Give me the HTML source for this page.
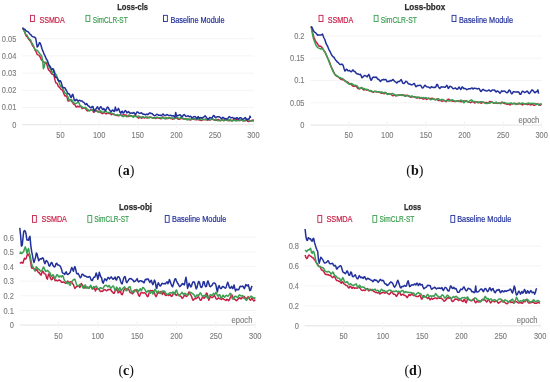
<!DOCTYPE html>
<html><head><meta charset="utf-8"><title>Loss curves</title>
<style>
html,body{margin:0;padding:0;background:#fff;}
body{width:550px;height:382px;overflow:hidden;}
svg{display:block;filter:blur(0.3px);}
.tk{font-family:"Liberation Sans",Arial,sans-serif;font-size:8.2px;fill:#7c7c7c;stroke:#7c7c7c;stroke-width:0.12px;}
.ti{font-family:"Liberation Sans",Arial,sans-serif;font-size:9.8px;font-weight:bold;fill:#2b2b2b;stroke:#2b2b2b;stroke-width:0.25px;}
.lg{font-family:"Liberation Sans",Arial,sans-serif;font-size:8.4px;stroke-width:0.2px;}
.cap{font-family:"Liberation Serif","Times New Roman",serif;font-size:14px;fill:#111;}
</style></head>
<body>
<svg width="550" height="382" viewBox="0 0 550 382">
<rect width="550" height="382" fill="#fff"/>
<line x1="22.0" y1="124.70" x2="254.0" y2="124.70" stroke="#e2e2e2" stroke-width="1"/>
<text x="16.3" y="127.60" class="tk" text-anchor="end" textLength="4.14" lengthAdjust="spacingAndGlyphs">0</text>
<line x1="22.0" y1="107.50" x2="254.0" y2="107.50" stroke="#f4f4f4" stroke-width="1"/>
<text x="16.3" y="110.40" class="tk" text-anchor="end" textLength="14.50" lengthAdjust="spacingAndGlyphs">0.01</text>
<line x1="22.0" y1="90.30" x2="254.0" y2="90.30" stroke="#f4f4f4" stroke-width="1"/>
<text x="16.3" y="93.20" class="tk" text-anchor="end" textLength="14.50" lengthAdjust="spacingAndGlyphs">0.02</text>
<line x1="22.0" y1="73.10" x2="254.0" y2="73.10" stroke="#f4f4f4" stroke-width="1"/>
<text x="16.3" y="76.00" class="tk" text-anchor="end" textLength="14.50" lengthAdjust="spacingAndGlyphs">0.03</text>
<line x1="22.0" y1="55.90" x2="254.0" y2="55.90" stroke="#f4f4f4" stroke-width="1"/>
<text x="16.3" y="58.80" class="tk" text-anchor="end" textLength="14.50" lengthAdjust="spacingAndGlyphs">0.04</text>
<line x1="22.0" y1="38.70" x2="254.0" y2="38.70" stroke="#f4f4f4" stroke-width="1"/>
<text x="16.3" y="41.60" class="tk" text-anchor="end" textLength="14.50" lengthAdjust="spacingAndGlyphs">0.05</text>
<line x1="60.40" y1="120.70" x2="60.40" y2="127.70" stroke="#f4f4f4" stroke-width="1"/>
<text x="60.40" y="138.10" class="tk" text-anchor="middle" textLength="8.28" lengthAdjust="spacingAndGlyphs">50</text>
<line x1="99.10" y1="120.70" x2="99.10" y2="127.70" stroke="#f4f4f4" stroke-width="1"/>
<text x="99.10" y="138.10" class="tk" text-anchor="middle" textLength="12.43" lengthAdjust="spacingAndGlyphs">100</text>
<line x1="137.80" y1="120.70" x2="137.80" y2="127.70" stroke="#f4f4f4" stroke-width="1"/>
<text x="137.80" y="138.10" class="tk" text-anchor="middle" textLength="12.43" lengthAdjust="spacingAndGlyphs">150</text>
<line x1="176.50" y1="120.70" x2="176.50" y2="127.70" stroke="#f4f4f4" stroke-width="1"/>
<text x="176.50" y="138.10" class="tk" text-anchor="middle" textLength="12.43" lengthAdjust="spacingAndGlyphs">200</text>
<line x1="215.00" y1="120.70" x2="215.00" y2="127.70" stroke="#f4f4f4" stroke-width="1"/>
<text x="215.00" y="138.10" class="tk" text-anchor="middle" textLength="12.43" lengthAdjust="spacingAndGlyphs">250</text>
<line x1="253.40" y1="120.70" x2="253.40" y2="127.70" stroke="#f4f4f4" stroke-width="1"/>
<text x="253.40" y="138.10" class="tk" text-anchor="middle" textLength="12.43" lengthAdjust="spacingAndGlyphs">300</text>
<polyline points="22.5,28.0 23.3,29.2 24.0,30.6 24.8,32.1 25.6,34.6 26.4,36.1 27.1,36.6 27.9,37.8 28.7,39.2 29.5,40.1 30.2,40.8 31.0,42.0 31.8,44.0 32.6,45.7 33.3,46.5 34.1,47.6 34.9,49.8 35.7,51.0 36.4,52.3 37.2,54.4 38.0,54.9 38.7,55.1 39.5,56.1 40.3,57.2 41.1,59.2 41.8,60.2 42.6,60.9 43.4,61.9 44.2,62.2 44.9,62.7 45.7,63.1 46.5,63.8 47.3,65.7 48.0,68.6 48.8,70.3 49.6,70.7 50.4,71.7 51.1,73.0 51.9,74.1 52.7,74.4 53.4,74.6 54.2,76.4 55.0,80.1 55.8,82.9 56.5,83.0 57.3,83.8 58.1,86.0 58.9,86.9 59.6,87.4 60.4,88.5 61.2,89.4 62.0,89.8 62.7,90.8 63.5,92.8 64.3,94.7 65.1,96.1 65.8,95.9 66.6,95.9 67.4,98.6 68.1,101.1 68.9,100.8 69.7,100.0 70.5,100.1 71.2,100.8 72.0,101.6 72.8,102.7 73.6,104.2 74.3,104.4 75.1,105.0 75.9,106.7 76.7,107.0 77.4,106.2 78.2,106.5 79.0,106.9 79.8,106.1 80.5,105.9 81.3,107.4 82.1,108.6 82.8,108.2 83.6,107.7 84.4,107.9 85.2,108.1 85.9,108.9 86.7,110.3 87.5,110.9 88.3,110.5 89.0,110.4 89.8,110.3 90.6,110.0 91.4,109.7 92.1,109.7 92.9,110.9 93.7,112.3 94.5,111.9 95.2,110.8 96.0,110.4 96.8,110.7 97.5,111.5 98.3,111.5 99.1,111.2 99.9,111.6 100.6,112.4 101.4,113.0 102.2,113.5 103.0,113.5 103.7,112.8 104.5,112.6 105.3,113.3 106.1,113.9 106.8,113.5 107.6,112.8 108.4,113.2 109.2,113.5 109.9,113.3 110.7,113.9 111.5,114.7 112.2,114.2 113.0,113.8 113.8,114.5 114.6,114.8 115.3,114.9 116.1,115.3 116.9,115.5 117.7,115.6 118.4,115.8 119.2,115.5 120.0,115.0 120.8,114.9 121.5,115.2 122.3,115.4 123.1,114.8 123.9,114.7 124.6,115.2 125.4,115.0 126.2,115.0 126.9,115.9 127.7,116.3 128.5,116.5 129.3,116.2 130.0,115.6 130.8,115.6 131.6,116.1 132.4,116.3 133.1,116.2 133.9,116.1 134.7,116.1 135.5,116.1 136.2,116.0 137.0,116.6 137.8,117.6 138.6,118.2 139.3,117.8 140.1,117.0 140.9,117.5 141.6,118.2 142.4,117.8 143.2,117.2 144.0,117.8 144.7,118.0 145.5,117.3 146.3,117.6 147.1,118.0 147.8,117.7 148.6,117.5 149.4,117.1 150.2,116.9 150.9,117.2 151.7,117.6 152.5,118.0 153.3,118.0 154.0,117.6 154.8,117.8 155.6,118.5 156.4,118.1 157.1,117.6 157.9,117.9 158.7,118.1 159.4,118.2 160.2,118.6 161.0,118.8 161.8,118.1 162.5,117.0 163.3,117.3 164.1,118.2 164.9,118.6 165.6,118.8 166.4,118.5 167.2,118.3 168.0,118.5 168.7,117.8 169.5,117.8 170.3,118.5 171.1,118.2 171.8,118.6 172.6,119.2 173.4,118.5 174.1,118.1 174.9,118.4 175.7,117.9 176.5,117.7 177.2,118.4 178.0,119.1 178.8,119.3 179.6,119.2 180.3,118.8 181.1,118.4 181.9,118.3 182.7,118.7 183.4,119.1 184.2,119.1 185.0,119.0 185.8,118.8 186.5,118.7 187.3,119.0 188.1,119.2 188.8,119.4 189.6,119.8 190.4,120.0 191.2,119.5 191.9,118.9 192.7,118.8 193.5,119.3 194.3,119.5 195.0,119.2 195.8,119.4 196.6,119.8 197.4,119.5 198.1,119.5 198.9,119.9 199.7,119.9 200.5,120.1 201.2,120.5 202.0,120.3 202.8,119.6 203.5,119.4 204.3,119.7 205.1,119.3 205.9,119.1 206.6,119.9 207.4,120.2 208.2,119.8 209.0,119.7 209.7,120.0 210.5,119.8 211.3,119.3 212.1,119.2 212.8,119.4 213.6,119.7 214.4,119.8 215.2,120.0 215.9,120.2 216.7,120.2 217.5,119.7 218.2,119.4 219.0,119.9 219.8,120.5 220.6,120.8 221.3,120.2 222.1,119.5 222.9,120.1 223.7,120.8 224.4,120.3 225.2,119.9 226.0,120.0 226.8,120.1 227.5,120.3 228.3,120.6 229.1,120.8 229.9,120.5 230.6,120.1 231.4,120.5 232.2,120.6 232.9,120.1 233.7,119.4 234.5,119.4 235.3,120.0 236.0,119.8 236.8,118.9 237.6,119.1 238.4,120.0 239.1,120.6 239.9,120.6 240.7,120.3 241.5,119.7 242.2,119.8 243.0,120.6 243.8,120.8 244.6,120.8 245.3,120.8 246.1,120.2 246.9,120.3 247.6,121.2 248.4,121.5 249.2,121.2 250.0,121.1 250.7,120.7 251.5,120.5 252.3,120.2 253.1,120.0 253.8,120.6" fill="none" stroke="#c81e46" stroke-width="1.5" stroke-linejoin="round"/>
<polyline points="22.5,28.0 23.3,29.5 24.0,30.3 24.8,32.4 25.6,34.4 26.4,34.8 27.1,35.2 27.9,36.9 28.7,38.3 29.5,39.0 30.2,39.5 31.0,40.9 31.8,43.0 32.6,44.2 33.3,45.3 34.1,47.8 34.9,49.5 35.7,49.8 36.4,49.9 37.2,50.3 38.0,51.0 38.7,52.0 39.5,53.4 40.3,54.3 41.1,55.3 41.8,56.3 42.6,60.7 43.4,68.7 44.2,66.9 44.9,62.8 45.7,62.1 46.5,62.4 47.3,62.6 48.0,63.7 48.8,65.8 49.6,67.9 50.4,69.0 51.1,70.0 51.9,72.1 52.7,73.0 53.4,71.4 54.2,70.8 55.0,72.8 55.8,74.5 56.5,75.3 57.3,77.7 58.1,79.8 58.9,81.4 59.6,84.0 60.4,85.9 61.2,86.6 62.0,87.6 62.7,88.4 63.5,89.6 64.3,91.7 65.1,93.2 65.8,93.3 66.6,94.1 67.4,96.0 68.1,97.4 68.9,99.3 69.7,100.9 70.5,100.3 71.2,99.3 72.0,100.0 72.8,101.8 73.6,102.6 74.3,103.1 75.1,103.7 75.9,103.6 76.7,103.3 77.4,102.5 78.2,101.8 79.0,103.0 79.8,104.9 80.5,105.9 81.3,106.5 82.1,106.9 82.8,107.5 83.6,107.9 84.4,107.6 85.2,107.3 85.9,107.7 86.7,108.8 87.5,109.4 88.3,110.0 89.0,110.9 89.8,110.8 90.6,110.4 91.4,110.1 92.1,109.8 92.9,110.3 93.7,110.3 94.5,110.2 95.2,111.0 96.0,111.2 96.8,111.2 97.5,111.5 98.3,112.3 99.1,112.4 99.9,111.1 100.6,110.6 101.4,111.7 102.2,112.4 103.0,112.1 103.7,112.1 104.5,111.8 105.3,111.0 106.1,111.2 106.8,112.0 107.6,112.6 108.4,112.6 109.2,112.4 109.9,112.6 110.7,112.7 111.5,113.2 112.2,113.4 113.0,113.5 113.8,113.9 114.6,114.6 115.3,114.8 116.1,114.9 116.9,114.9 117.7,114.6 118.4,115.1 119.2,115.4 120.0,115.3 120.8,115.0 121.5,115.2 122.3,116.3 123.1,116.7 123.9,116.0 124.6,115.8 125.4,116.1 126.2,116.4 126.9,116.8 127.7,116.2 128.5,115.1 129.3,115.1 130.0,115.8 130.8,116.0 131.6,116.0 132.4,116.2 133.1,117.2 133.9,117.0 134.7,115.7 135.5,115.9 136.2,116.8 137.0,116.8 137.8,116.3 138.6,115.9 139.3,116.3 140.1,117.3 140.9,117.7 141.6,117.1 142.4,116.7 143.2,116.9 144.0,117.2 144.7,117.4 145.5,117.3 146.3,117.1 147.1,117.0 147.8,117.1 148.6,117.8 149.4,117.9 150.2,117.3 150.9,117.2 151.7,117.4 152.5,118.1 153.3,118.3 154.0,118.0 154.8,118.0 155.6,117.6 156.4,117.2 157.1,117.3 157.9,117.5 158.7,117.7 159.4,117.7 160.2,117.8 161.0,118.4 161.8,118.5 162.5,117.6 163.3,117.4 164.1,118.3 164.9,118.7 165.6,118.0 166.4,117.5 167.2,118.3 168.0,118.5 168.7,117.8 169.5,118.0 170.3,118.0 171.1,117.9 171.8,118.1 172.6,117.9 173.4,118.5 174.1,119.1 174.9,118.6 175.7,117.7 176.5,117.2 177.2,117.1 178.0,117.8 178.8,118.8 179.6,118.6 180.3,117.8 181.1,117.6 181.9,117.9 182.7,118.1 183.4,118.5 184.2,119.1 185.0,118.7 185.8,118.4 186.5,119.2 187.3,119.9 188.1,119.8 188.8,119.1 189.6,119.0 190.4,119.3 191.2,119.4 191.9,119.1 192.7,118.5 193.5,118.4 194.3,118.7 195.0,119.0 195.8,119.6 196.6,119.4 197.4,118.8 198.1,118.8 198.9,119.0 199.7,119.4 200.5,119.5 201.2,118.6 202.0,118.4 202.8,119.1 203.5,119.5 204.3,119.6 205.1,119.7 205.9,119.7 206.6,119.6 207.4,119.3 208.2,119.2 209.0,119.0 209.7,119.0 210.5,119.7 211.3,119.6 212.1,118.7 212.8,118.8 213.6,119.8 214.4,120.0 215.2,119.6 215.9,119.2 216.7,119.6 217.5,120.6 218.2,120.7 219.0,120.4 219.8,120.4 220.6,120.5 221.3,120.2 222.1,120.0 222.9,120.1 223.7,120.3 224.4,120.3 225.2,119.7 226.0,119.6 226.8,120.3 227.5,120.6 228.3,120.1 229.1,119.6 229.9,119.6 230.6,120.1 231.4,120.9 232.2,121.0 232.9,120.8 233.7,120.3 234.5,120.1 235.3,120.8 236.0,121.1 236.8,120.7 237.6,120.4 238.4,120.5 239.1,120.4 239.9,120.2 240.7,119.8 241.5,119.7 242.2,120.3 243.0,120.9 243.8,121.0 244.6,120.5 245.3,120.0 246.1,119.4 246.9,118.9 247.6,119.3 248.4,119.9 249.2,120.2 250.0,120.8 250.7,121.1 251.5,120.9 252.3,121.0 253.1,121.0 253.8,120.9" fill="none" stroke="#3c9e50" stroke-width="1.5" stroke-linejoin="round"/>
<polyline points="22.5,27.6 23.3,28.6 24.0,29.0 24.8,29.2 25.6,30.3 26.4,31.1 27.1,31.3 27.9,31.7 28.7,32.4 29.5,33.6 30.2,34.2 31.0,34.9 31.8,36.0 32.6,36.6 33.3,36.9 34.1,37.0 34.9,37.4 35.7,38.2 36.4,42.4 37.2,47.1 38.0,46.1 38.7,44.5 39.5,42.6 40.3,43.4 41.1,45.5 41.8,48.3 42.6,50.4 43.4,52.3 44.2,54.4 44.9,55.6 45.7,57.5 46.5,59.4 47.3,60.2 48.0,62.2 48.8,64.8 49.6,65.9 50.4,66.7 51.1,68.6 51.9,69.7 52.7,68.7 53.4,69.0 54.2,72.3 55.0,75.8 55.8,77.3 56.5,77.2 57.3,78.2 58.1,80.2 58.9,81.3 59.6,80.8 60.4,80.7 61.2,82.4 62.0,85.2 62.7,87.0 63.5,87.8 64.3,87.7 65.1,88.0 65.8,89.5 66.6,90.8 67.4,92.5 68.1,93.9 68.9,93.6 69.7,94.7 70.5,97.1 71.2,97.5 72.0,95.3 72.8,94.3 73.6,97.2 74.3,100.4 75.1,100.9 75.9,99.7 76.7,99.3 77.4,100.5 78.2,101.2 79.0,100.5 79.8,100.3 80.5,100.9 81.3,101.0 82.1,100.9 82.8,101.8 83.6,102.3 84.4,102.8 85.2,104.5 85.9,104.4 86.7,103.5 87.5,105.1 88.3,106.0 89.0,106.1 89.8,107.2 90.6,107.8 91.4,107.7 92.1,106.5 92.9,106.5 93.7,109.3 94.5,110.8 95.2,110.1 96.0,109.0 96.8,107.5 97.5,106.7 98.3,108.6 99.1,109.4 99.9,107.8 100.6,106.8 101.4,107.2 102.2,109.0 103.0,109.8 103.7,108.6 104.5,109.3 105.3,110.8 106.1,109.8 106.8,108.0 107.6,107.1 108.4,107.9 109.2,109.6 109.9,110.4 110.7,111.4 111.5,111.4 112.2,110.0 113.0,110.1 113.8,111.2 114.6,111.4 115.3,107.0 116.1,109.9 116.9,110.7 117.7,109.7 118.4,108.4 119.2,109.9 120.0,112.4 120.8,113.4 121.5,111.6 122.3,111.2 123.1,113.1 123.9,112.8 124.6,111.3 125.4,110.5 126.2,111.4 126.9,112.9 127.7,112.4 128.5,111.5 129.3,112.4 130.0,113.4 130.8,113.0 131.6,113.1 132.4,113.3 133.1,112.8 133.9,112.5 134.7,113.8 135.5,114.7 136.2,113.4 137.0,111.9 137.8,111.9 138.6,112.9 139.3,113.2 140.1,113.3 140.9,112.9 141.6,112.8 142.4,113.9 143.2,114.3 144.0,114.0 144.7,114.5 145.5,114.9 146.3,114.2 147.1,114.0 147.8,114.7 148.6,114.2 149.4,113.0 150.2,112.9 150.9,113.5 151.7,113.5 152.5,114.0 153.3,114.9 154.0,115.4 154.8,115.7 155.6,115.3 156.4,114.5 157.1,114.3 157.9,114.7 158.7,115.3 159.4,115.2 160.2,115.1 161.0,115.7 161.8,115.4 162.5,114.3 163.3,114.1 164.1,115.2 164.9,115.7 165.6,115.4 166.4,114.8 167.2,114.6 168.0,115.1 168.7,115.6 169.5,115.6 170.3,115.3 171.1,115.4 171.8,115.9 172.6,115.8 173.4,115.7 174.1,116.5 174.9,117.2 175.7,112.5 176.5,116.2 177.2,115.4 178.0,115.4 178.8,115.4 179.6,114.7 180.3,114.9 181.1,116.1 181.9,116.8 182.7,116.2 183.4,115.0 184.2,114.6 185.0,115.3 185.8,116.2 186.5,116.4 187.3,116.1 188.1,115.8 188.8,116.5 189.6,116.8 190.4,116.2 191.2,116.8 191.9,118.1 192.7,117.5 193.5,116.8 194.3,116.8 195.0,116.5 195.8,117.1 196.6,118.7 197.4,118.2 198.1,116.6 198.9,117.5 199.7,118.4 200.5,117.4 201.2,117.6 202.0,118.1 202.8,117.5 203.5,117.3 204.3,116.6 205.1,115.9 205.9,116.7 206.6,117.6 207.4,118.6 208.2,119.4 209.0,118.4 209.7,117.5 210.5,117.7 211.3,118.1 212.1,117.8 212.8,116.5 213.6,115.5 214.4,116.0 215.2,117.3 215.9,117.6 216.7,117.0 217.5,116.8 218.2,116.8 219.0,116.8 219.8,117.1 220.6,117.8 221.3,118.7 222.1,118.3 222.9,117.3 223.7,117.7 224.4,118.7 225.2,118.8 226.0,118.6 226.8,119.1 227.5,119.0 228.3,117.6 229.1,116.6 229.9,116.9 230.6,117.8 231.4,117.8 232.2,117.4 232.9,117.7 233.7,118.4 234.5,118.2 235.3,118.3 236.0,118.6 236.8,117.6 237.6,118.0 238.4,119.5 239.1,118.8 239.9,117.7 240.7,117.7 241.5,118.3 242.2,119.1 243.0,119.3 243.8,118.9 244.6,118.0 245.3,117.6 246.1,118.7 246.9,119.9 247.6,119.6 248.4,119.0 249.2,118.9 250.0,116.1 250.7,118.1" fill="none" stroke="#22309b" stroke-width="1.5" stroke-linejoin="round"/>
<text x="132.6" y="10.1" class="ti" text-anchor="middle" textLength="30.7" lengthAdjust="spacingAndGlyphs">Loss-cls</text>
<rect x="30.45" y="15.35" width="3.9" height="6.20" fill="none" stroke="#c81e46" stroke-width="0.9"/>
<text x="39.5" y="22.6" class="lg" fill="#c81e46" stroke="#c81e46" textLength="25.2" lengthAdjust="spacingAndGlyphs">SSMDA</text>
<rect x="85.95" y="15.35" width="3.9" height="6.20" fill="none" stroke="#3c9e50" stroke-width="0.9"/>
<text x="92.8" y="22.6" class="lg" fill="#3c9e50" stroke="#3c9e50" textLength="34.9" lengthAdjust="spacingAndGlyphs">SimCLR-ST</text>
<rect x="163.45" y="15.35" width="3.9" height="6.20" fill="none" stroke="#22309b" stroke-width="0.9"/>
<text x="170.4" y="22.6" class="lg" fill="#22309b" stroke="#22309b" textLength="54.1" lengthAdjust="spacingAndGlyphs">Baseline Module</text>
<text x="126.2" y="174.5" class="cap" text-anchor="middle">(<tspan font-weight="bold">a</tspan>)</text>
<line x1="310.4" y1="125.10" x2="542.0" y2="125.10" stroke="#e2e2e2" stroke-width="1"/>
<text x="304.5" y="128.00" class="tk" text-anchor="end" textLength="4.14" lengthAdjust="spacingAndGlyphs">0</text>
<line x1="310.4" y1="102.80" x2="542.0" y2="102.80" stroke="#f4f4f4" stroke-width="1"/>
<text x="304.5" y="105.70" class="tk" text-anchor="end" textLength="14.50" lengthAdjust="spacingAndGlyphs">0.05</text>
<line x1="310.4" y1="80.50" x2="542.0" y2="80.50" stroke="#f4f4f4" stroke-width="1"/>
<text x="304.5" y="83.40" class="tk" text-anchor="end" textLength="10.36" lengthAdjust="spacingAndGlyphs">0.1</text>
<line x1="310.4" y1="58.20" x2="542.0" y2="58.20" stroke="#f4f4f4" stroke-width="1"/>
<text x="304.5" y="61.10" class="tk" text-anchor="end" textLength="14.50" lengthAdjust="spacingAndGlyphs">0.15</text>
<line x1="310.4" y1="35.90" x2="542.0" y2="35.90" stroke="#f4f4f4" stroke-width="1"/>
<text x="304.5" y="38.80" class="tk" text-anchor="end" textLength="10.36" lengthAdjust="spacingAndGlyphs">0.2</text>
<line x1="348.70" y1="121.10" x2="348.70" y2="128.10" stroke="#f4f4f4" stroke-width="1"/>
<text x="348.70" y="138.30" class="tk" text-anchor="middle" textLength="8.28" lengthAdjust="spacingAndGlyphs">50</text>
<line x1="387.30" y1="121.10" x2="387.30" y2="128.10" stroke="#f4f4f4" stroke-width="1"/>
<text x="387.30" y="138.30" class="tk" text-anchor="middle" textLength="12.43" lengthAdjust="spacingAndGlyphs">100</text>
<line x1="425.90" y1="121.10" x2="425.90" y2="128.10" stroke="#f4f4f4" stroke-width="1"/>
<text x="425.90" y="138.30" class="tk" text-anchor="middle" textLength="12.43" lengthAdjust="spacingAndGlyphs">150</text>
<line x1="464.50" y1="121.10" x2="464.50" y2="128.10" stroke="#f4f4f4" stroke-width="1"/>
<text x="464.50" y="138.30" class="tk" text-anchor="middle" textLength="12.43" lengthAdjust="spacingAndGlyphs">200</text>
<line x1="503.10" y1="121.10" x2="503.10" y2="128.10" stroke="#f4f4f4" stroke-width="1"/>
<text x="503.10" y="138.30" class="tk" text-anchor="middle" textLength="12.43" lengthAdjust="spacingAndGlyphs">250</text>
<line x1="541.70" y1="121.10" x2="541.70" y2="128.10" stroke="#f4f4f4" stroke-width="1"/>
<text x="541.70" y="138.30" class="tk" text-anchor="middle" textLength="12.43" lengthAdjust="spacingAndGlyphs">300</text>
<text x="528.9" y="122.6" class="tk" text-anchor="middle" textLength="20.8" lengthAdjust="spacingAndGlyphs">epoch</text>
<polyline points="310.9,26.4 311.7,27.8 312.4,31.8 313.2,35.1 314.0,37.5 314.8,39.4 315.5,40.8 316.3,42.3 317.1,43.3 317.8,44.3 318.6,45.7 319.4,46.3 320.2,46.1 320.9,46.4 321.7,47.2 322.5,48.3 323.3,49.6 324.0,50.6 324.8,51.6 325.6,53.4 326.3,55.0 327.1,56.7 327.9,58.5 328.7,60.1 329.4,61.8 330.2,64.3 331.0,66.6 331.7,67.9 332.5,69.3 333.3,71.3 334.1,72.7 334.8,74.3 335.6,75.4 336.4,76.0 337.1,76.3 337.9,76.6 338.7,77.4 339.5,78.0 340.2,78.7 341.0,79.3 341.8,79.6 342.6,79.7 343.3,79.8 344.1,80.0 344.9,80.9 345.6,81.6 346.4,81.6 347.2,81.9 348.0,82.4 348.7,82.9 349.5,83.8 350.3,84.3 351.0,84.3 351.8,84.9 352.6,85.8 353.4,86.3 354.1,86.4 354.9,86.1 355.7,86.1 356.4,86.5 357.2,87.5 358.0,88.6 358.8,88.8 359.5,88.9 360.3,88.5 361.1,87.8 361.9,88.0 362.6,88.7 363.4,89.7 364.2,90.0 364.9,89.5 365.7,89.6 366.5,90.0 367.3,89.9 368.0,89.8 368.8,90.3 369.6,90.8 370.3,91.0 371.1,91.4 371.9,91.7 372.7,92.0 373.4,92.2 374.2,91.5 375.0,91.4 375.7,91.7 376.5,91.6 377.3,91.7 378.1,92.2 378.8,92.3 379.6,92.1 380.4,92.5 381.2,93.3 381.9,93.2 382.7,92.8 383.5,93.5 384.2,93.7 385.0,92.8 385.8,92.7 386.6,93.4 387.3,93.6 388.1,93.9 388.9,94.2 389.6,94.1 390.4,94.2 391.2,94.6 392.0,95.1 392.7,95.7 393.5,95.6 394.3,95.0 395.0,95.2 395.8,95.9 396.6,95.8 397.4,95.1 398.1,94.9 398.9,95.2 399.7,95.1 400.5,94.8 401.2,94.8 402.0,95.2 402.8,95.4 403.5,95.1 404.3,95.3 405.1,95.6 405.9,95.4 406.6,95.3 407.4,95.5 408.2,95.9 408.9,96.3 409.7,96.6 410.5,97.1 411.3,97.2 412.0,96.7 412.8,96.8 413.6,96.8 414.3,96.7 415.1,97.0 415.9,97.5 416.7,98.1 417.4,98.1 418.2,97.5 419.0,97.6 419.8,98.4 420.5,98.2 421.3,97.7 422.1,98.3 422.8,99.0 423.6,99.1 424.4,98.6 425.2,98.3 425.9,98.9 426.7,99.5 427.5,98.8 428.2,98.3 429.0,98.7 429.8,98.6 430.6,98.4 431.3,98.4 432.1,98.2 432.9,98.4 433.6,98.8 434.4,99.2 435.2,99.5 436.0,99.3 436.7,99.1 437.5,99.7 438.3,100.5 439.1,100.6 439.8,100.4 440.6,100.5 441.4,100.9 442.1,101.3 442.9,101.1 443.7,100.4 444.5,100.4 445.2,101.2 446.0,101.7 446.8,100.9 447.5,99.7 448.3,99.2 449.1,99.3 449.9,100.2 450.6,100.8 451.4,100.7 452.2,101.0 452.9,101.2 453.7,101.2 454.5,101.4 455.3,101.5 456.0,101.3 456.8,101.3 457.6,101.0 458.4,100.8 459.1,101.4 459.9,101.6 460.7,101.5 461.4,101.8 462.2,101.6 463.0,101.0 463.8,101.0 464.5,101.0 465.3,101.1 466.1,101.3 466.8,101.2 467.6,101.3 468.4,101.7 469.2,102.0 469.9,102.4 470.7,102.7 471.5,102.2 472.2,101.6 473.0,101.6 473.8,102.2 474.6,102.9 475.3,102.7 476.1,102.0 476.9,102.1 477.7,102.6 478.4,102.7 479.2,102.4 480.0,102.4 480.7,103.0 481.5,103.2 482.3,102.7 483.1,102.2 483.8,102.3 484.6,102.6 485.4,102.7 486.1,102.6 486.9,102.6 487.7,103.1 488.5,103.0 489.2,101.9 490.0,101.5 490.8,101.8 491.5,101.9 492.3,102.2 493.1,102.9 493.9,103.2 494.6,102.9 495.4,102.8 496.2,103.1 497.0,103.4 497.7,103.3 498.5,103.2 499.3,103.2 500.0,103.2 500.8,103.0 501.6,102.2 502.4,102.3 503.1,103.0 503.9,103.3 504.7,103.5 505.4,103.7 506.2,103.8 507.0,104.3 507.8,104.3 508.5,103.9 509.3,104.4 510.1,105.0 510.8,104.1 511.6,103.3 512.4,103.9 513.2,103.8 513.9,103.4 514.7,103.6 515.5,103.6 516.3,103.8 517.0,104.0 517.8,103.9 518.6,103.9 519.3,103.8 520.1,103.8 520.9,103.9 521.7,104.3 522.4,105.0 523.2,104.4 524.0,103.7 524.7,103.8 525.5,103.9 526.3,104.2 527.1,104.4 527.8,104.4 528.6,104.3 529.4,104.3 530.1,104.7 530.9,104.9 531.7,104.4 532.5,104.3 533.2,104.8 534.0,105.3 534.8,105.2 535.6,104.5 536.3,104.1 537.1,103.8 537.9,103.9 538.6,104.6 539.4,105.2 540.2,105.2 541.0,104.5 541.7,104.2" fill="none" stroke="#c81e46" stroke-width="1.5" stroke-linejoin="round"/>
<polyline points="310.9,27.0 311.7,29.1 312.4,33.7 313.2,37.7 314.0,40.2 314.8,42.1 315.5,44.1 316.3,45.9 317.1,46.9 317.8,47.5 318.6,48.1 319.4,48.4 320.2,48.6 320.9,49.0 321.7,48.8 322.5,48.7 323.3,49.8 324.0,51.2 324.8,52.0 325.6,53.2 326.3,54.9 327.1,56.9 327.9,58.8 328.7,60.6 329.4,62.9 330.2,64.6 331.0,66.0 331.7,68.0 332.5,70.2 333.3,72.0 334.1,73.2 334.8,74.3 335.6,74.7 336.4,75.6 337.1,76.2 337.9,76.2 338.7,77.0 339.5,77.6 340.2,77.5 341.0,78.1 341.8,78.7 342.6,78.6 343.3,79.1 344.1,80.2 344.9,80.7 345.6,81.0 346.4,81.8 347.2,82.7 348.0,83.4 348.7,83.9 349.5,84.1 350.3,83.9 351.0,83.4 351.8,83.5 352.6,84.1 353.4,85.0 354.1,85.4 354.9,85.2 355.7,85.3 356.4,85.4 357.2,86.0 358.0,87.2 358.8,87.8 359.5,88.4 360.3,88.3 361.1,87.4 361.9,87.6 362.6,88.8 363.4,88.6 364.2,88.4 364.9,89.2 365.7,89.4 366.5,89.2 367.3,89.5 368.0,90.0 368.8,90.5 369.6,90.7 370.3,90.6 371.1,90.7 371.9,91.2 372.7,91.6 373.4,91.7 374.2,91.5 375.0,91.2 375.7,91.4 376.5,91.9 377.3,91.7 378.1,91.7 378.8,91.9 379.6,92.4 380.4,92.5 381.2,92.0 381.9,91.9 382.7,92.3 383.5,93.0 384.2,92.8 385.0,92.2 385.8,92.8 386.6,94.0 387.3,94.5 388.1,94.2 388.9,93.5 389.6,93.8 390.4,94.3 391.2,93.9 392.0,93.5 392.7,93.4 393.5,93.8 394.3,94.7 395.0,95.0 395.8,95.0 396.6,95.2 397.4,95.6 398.1,95.7 398.9,95.2 399.7,94.7 400.5,94.9 401.2,95.4 402.0,95.1 402.8,94.7 403.5,95.2 404.3,95.8 405.1,96.3 405.9,96.3 406.6,95.7 407.4,95.5 408.2,95.6 408.9,95.7 409.7,96.2 410.5,96.7 411.3,96.4 412.0,95.8 412.8,96.3 413.6,97.0 414.3,97.0 415.1,97.3 415.9,97.6 416.7,97.1 417.4,97.0 418.2,97.2 419.0,97.3 419.8,97.5 420.5,97.7 421.3,97.6 422.1,97.7 422.8,97.7 423.6,97.6 424.4,97.9 425.2,97.8 425.9,97.6 426.7,98.1 427.5,98.5 428.2,98.1 429.0,98.2 429.8,99.1 430.6,99.7 431.3,99.6 432.1,99.2 432.9,98.8 433.6,98.9 434.4,99.4 435.2,100.0 436.0,99.8 436.7,99.3 437.5,98.8 438.3,98.7 439.1,99.3 439.8,99.9 440.6,100.1 441.4,99.6 442.1,99.3 442.9,99.7 443.7,100.1 444.5,100.8 445.2,101.2 446.0,100.9 446.8,100.4 447.5,100.3 448.3,101.0 449.1,101.0 449.9,100.5 450.6,100.1 451.4,99.9 452.2,99.8 452.9,100.1 453.7,100.5 454.5,100.9 455.3,101.3 456.0,101.1 456.8,100.8 457.6,101.1 458.4,101.4 459.1,101.2 459.9,100.8 460.7,100.1 461.4,100.2 462.2,100.9 463.0,101.6 463.8,102.7 464.5,102.4 465.3,100.8 466.1,100.4 466.8,101.3 467.6,102.1 468.4,102.1 469.2,101.4 469.9,100.7 470.7,100.2 471.5,99.8 472.2,100.4 473.0,101.5 473.8,101.7 474.6,101.3 475.3,101.8 476.1,102.4 476.9,102.1 477.7,101.8 478.4,102.1 479.2,102.2 480.0,101.9 480.7,101.7 481.5,101.7 482.3,101.9 483.1,102.1 483.8,102.7 484.6,103.0 485.4,103.2 486.1,103.6 486.9,103.6 487.7,103.3 488.5,102.8 489.2,102.9 490.0,103.2 490.8,102.6 491.5,102.0 492.3,102.1 493.1,102.6 493.9,103.1 494.6,103.2 495.4,102.5 496.2,102.1 497.0,102.8 497.7,103.3 498.5,103.1 499.3,103.0 500.0,103.5 500.8,103.7 501.6,103.0 502.4,102.4 503.1,102.6 503.9,102.6 504.7,102.5 505.4,103.0 506.2,103.2 507.0,103.3 507.8,103.4 508.5,103.5 509.3,103.8 510.1,103.3 510.8,103.0 511.6,103.5 512.4,103.8 513.2,103.4 513.9,103.2 514.7,103.7 515.5,104.3 516.3,104.5 517.0,103.9 517.8,103.5 518.6,103.1 519.3,102.9 520.1,103.6 520.9,103.9 521.7,103.3 522.4,103.0 523.2,103.4 524.0,104.0 524.7,104.0 525.5,103.8 526.3,103.7 527.1,103.6 527.8,103.2 528.6,102.9 529.4,103.6 530.1,103.8 530.9,103.3 531.7,103.5 532.5,103.6 533.2,103.5 534.0,103.4 534.8,103.4 535.6,104.1 536.3,104.5 537.1,104.0 537.9,104.3 538.6,104.9 539.4,104.5 540.2,104.0 541.0,103.9 541.7,104.3" fill="none" stroke="#3c9e50" stroke-width="1.5" stroke-linejoin="round"/>
<polyline points="310.9,26.6 311.7,26.9 312.4,28.4 313.2,30.1 314.0,31.5 314.8,32.3 315.5,32.7 316.3,33.5 317.1,34.6 317.8,35.3 318.6,35.0 319.4,34.9 320.2,34.9 320.9,35.1 321.7,34.7 322.5,34.0 323.3,36.2 324.0,38.0 324.8,39.5 325.6,41.9 326.3,44.0 327.1,45.3 327.9,46.9 328.7,49.2 329.4,50.5 330.2,51.8 331.0,53.6 331.7,55.0 332.5,56.2 333.3,56.8 334.1,57.4 334.8,58.9 335.6,59.9 336.4,60.8 337.1,61.8 337.9,62.3 338.7,63.1 339.5,64.1 340.2,64.5 341.0,64.5 341.8,64.1 342.6,64.5 343.3,65.9 344.1,68.7 344.9,71.1 345.6,70.2 346.4,69.2 347.2,69.8 348.0,70.8 348.7,70.7 349.5,70.4 350.3,71.2 351.0,71.8 351.8,71.3 352.6,70.0 353.4,70.3 354.1,71.4 354.9,71.5 355.7,72.5 356.4,73.5 357.2,73.7 358.0,74.0 358.8,74.4 359.5,74.4 360.3,74.2 361.1,75.6 361.9,77.7 362.6,77.5 363.4,76.4 364.2,75.8 364.9,75.4 365.7,75.8 366.5,76.5 367.3,76.8 368.0,75.4 368.8,74.4 369.6,76.0 370.3,78.7 371.1,80.3 371.9,79.2 372.7,77.4 373.4,77.1 374.2,77.3 375.0,77.5 375.7,77.1 376.5,77.2 377.3,78.7 378.1,79.3 378.8,79.3 379.6,80.5 380.4,81.4 381.2,80.5 381.9,79.9 382.7,79.8 383.5,79.3 384.2,79.8 385.0,79.6 385.8,79.4 386.6,80.9 387.3,81.7 388.1,81.2 388.9,81.5 389.6,81.1 390.4,80.4 391.2,81.0 392.0,80.4 392.7,79.5 393.5,80.0 394.3,81.0 395.0,81.6 395.8,82.1 396.6,83.0 397.4,82.6 398.1,81.4 398.9,81.4 399.7,81.4 400.5,80.1 401.2,79.6 402.0,81.4 402.8,83.1 403.5,83.5 404.3,83.2 405.1,82.2 405.9,81.3 406.6,81.6 407.4,82.3 408.2,83.7 408.9,84.1 409.7,84.0 410.5,84.5 411.3,84.7 412.0,84.8 412.8,84.6 413.6,83.6 414.3,83.4 415.1,85.1 415.9,86.7 416.7,86.4 417.4,85.6 418.2,85.5 419.0,85.4 419.8,85.3 420.5,85.3 421.3,86.4 422.1,87.8 422.8,88.0 423.6,87.2 424.4,85.8 425.2,85.2 425.9,86.2 426.7,86.7 427.5,87.0 428.2,87.1 429.0,87.2 429.8,88.1 430.6,87.8 431.3,86.6 432.1,86.9 432.9,87.5 433.6,87.6 434.4,87.2 435.2,87.4 436.0,86.6 436.7,84.4 437.5,84.6 438.3,86.6 439.1,87.8 439.8,88.4 440.6,87.6 441.4,86.7 442.1,87.0 442.9,87.0 443.7,87.0 444.5,87.3 445.2,87.2 446.0,86.3 446.8,85.3 447.5,86.4 448.3,88.4 449.1,87.6 449.9,86.3 450.6,86.4 451.4,86.8 452.2,87.7 452.9,88.6 453.7,88.7 454.5,88.3 455.3,87.9 456.0,88.5 456.8,89.3 457.6,89.0 458.4,87.8 459.1,87.1 459.9,88.2 460.7,89.5 461.4,88.6 462.2,86.9 463.0,87.5 463.8,88.7 464.5,88.6 465.3,88.5 466.1,89.1 466.8,89.7 467.6,89.3 468.4,88.8 469.2,88.7 469.9,88.8 470.7,88.8 471.5,87.9 472.2,87.9 473.0,89.0 473.8,88.5 474.6,88.1 475.3,88.3 476.1,88.4 476.9,88.7 477.7,89.0 478.4,88.5 479.2,88.5 480.0,90.2 480.7,91.5 481.5,91.0 482.3,89.9 483.1,89.3 483.8,89.9 484.6,90.4 485.4,90.4 486.1,90.9 486.9,91.0 487.7,90.6 488.5,90.1 489.2,90.1 490.0,90.9 490.8,91.4 491.5,90.9 492.3,89.9 493.1,89.9 493.9,89.9 494.6,89.9 495.4,91.4 496.2,92.0 497.0,91.1 497.7,91.1 498.5,91.7 499.3,92.4 500.0,93.2 500.8,92.1 501.6,90.8 502.4,91.4 503.1,91.3 503.9,90.9 504.7,91.2 505.4,91.7 506.2,92.3 507.0,92.8 507.8,92.3 508.5,90.9 509.3,90.1 510.1,90.9 510.8,92.4 511.6,93.8 512.4,93.5 513.2,91.8 513.9,91.6 514.7,91.9 515.5,91.9 516.3,92.1 517.0,92.1 517.8,91.8 518.6,91.9 519.3,93.0 520.1,94.3 520.9,94.2 521.7,92.3 522.4,91.2 523.2,91.4 524.0,92.0 524.7,92.6 525.5,92.2 526.3,91.5 527.1,91.1 527.8,91.6 528.6,93.1 529.4,93.5 530.1,92.6 530.9,91.5 531.7,90.1 532.5,90.0 533.2,90.9 534.0,91.7 534.8,92.8 535.6,92.4 536.3,91.4 537.1,91.6 537.9,89.9 538.6,93.6" fill="none" stroke="#22309b" stroke-width="1.5" stroke-linejoin="round"/>
<text x="424.8" y="10.0" class="ti" text-anchor="middle" textLength="40.8" lengthAdjust="spacingAndGlyphs">Loss-bbox</text>
<rect x="319.05" y="15.35" width="3.9" height="6.20" fill="none" stroke="#c81e46" stroke-width="0.9"/>
<text x="327.7" y="22.6" class="lg" fill="#c81e46" stroke="#c81e46" textLength="25.5" lengthAdjust="spacingAndGlyphs">SSMDA</text>
<rect x="374.15" y="15.35" width="3.9" height="6.20" fill="none" stroke="#3c9e50" stroke-width="0.9"/>
<text x="380.8" y="22.6" class="lg" fill="#3c9e50" stroke="#3c9e50" textLength="36.0" lengthAdjust="spacingAndGlyphs">SimCLR-ST</text>
<rect x="452.05" y="15.35" width="3.9" height="6.20" fill="none" stroke="#22309b" stroke-width="0.9"/>
<text x="459.0" y="22.6" class="lg" fill="#22309b" stroke="#22309b" textLength="54.0" lengthAdjust="spacingAndGlyphs">Baseline Module</text>
<text x="414.8" y="174.5" class="cap" text-anchor="middle">(<tspan font-weight="bold">b</tspan>)</text>
<line x1="19.8" y1="325.10" x2="256.0" y2="325.10" stroke="#e2e2e2" stroke-width="1"/>
<text x="13.8" y="328.40" class="tk" text-anchor="end" textLength="4.14" lengthAdjust="spacingAndGlyphs">0</text>
<line x1="19.8" y1="310.45" x2="256.0" y2="310.45" stroke="#f4f4f4" stroke-width="1"/>
<text x="13.8" y="313.75" class="tk" text-anchor="end" textLength="10.36" lengthAdjust="spacingAndGlyphs">0.1</text>
<line x1="19.8" y1="295.80" x2="256.0" y2="295.80" stroke="#f4f4f4" stroke-width="1"/>
<text x="13.8" y="299.10" class="tk" text-anchor="end" textLength="10.36" lengthAdjust="spacingAndGlyphs">0.2</text>
<line x1="19.8" y1="281.15" x2="256.0" y2="281.15" stroke="#f4f4f4" stroke-width="1"/>
<text x="13.8" y="284.45" class="tk" text-anchor="end" textLength="10.36" lengthAdjust="spacingAndGlyphs">0.3</text>
<line x1="19.8" y1="266.50" x2="256.0" y2="266.50" stroke="#f4f4f4" stroke-width="1"/>
<text x="13.8" y="269.80" class="tk" text-anchor="end" textLength="10.36" lengthAdjust="spacingAndGlyphs">0.4</text>
<line x1="19.8" y1="251.85" x2="256.0" y2="251.85" stroke="#f4f4f4" stroke-width="1"/>
<text x="13.8" y="255.15" class="tk" text-anchor="end" textLength="10.36" lengthAdjust="spacingAndGlyphs">0.5</text>
<line x1="19.8" y1="237.20" x2="256.0" y2="237.20" stroke="#f4f4f4" stroke-width="1"/>
<text x="13.8" y="240.50" class="tk" text-anchor="end" textLength="10.36" lengthAdjust="spacingAndGlyphs">0.6</text>
<line x1="58.40" y1="321.10" x2="58.40" y2="328.10" stroke="#f4f4f4" stroke-width="1"/>
<text x="58.40" y="338.80" class="tk" text-anchor="middle" textLength="8.28" lengthAdjust="spacingAndGlyphs">50</text>
<line x1="97.78" y1="321.10" x2="97.78" y2="328.10" stroke="#f4f4f4" stroke-width="1"/>
<text x="97.78" y="338.80" class="tk" text-anchor="middle" textLength="12.43" lengthAdjust="spacingAndGlyphs">100</text>
<line x1="137.16" y1="321.10" x2="137.16" y2="328.10" stroke="#f4f4f4" stroke-width="1"/>
<text x="137.16" y="338.80" class="tk" text-anchor="middle" textLength="12.43" lengthAdjust="spacingAndGlyphs">150</text>
<line x1="176.54" y1="321.10" x2="176.54" y2="328.10" stroke="#f4f4f4" stroke-width="1"/>
<text x="176.54" y="338.80" class="tk" text-anchor="middle" textLength="12.43" lengthAdjust="spacingAndGlyphs">200</text>
<line x1="215.92" y1="321.10" x2="215.92" y2="328.10" stroke="#f4f4f4" stroke-width="1"/>
<text x="215.92" y="338.80" class="tk" text-anchor="middle" textLength="12.43" lengthAdjust="spacingAndGlyphs">250</text>
<line x1="255.30" y1="321.10" x2="255.30" y2="328.10" stroke="#f4f4f4" stroke-width="1"/>
<text x="255.30" y="338.80" class="tk" text-anchor="middle" textLength="12.43" lengthAdjust="spacingAndGlyphs">300</text>
<text x="242.0" y="322.6" class="tk" text-anchor="middle" textLength="20.8" lengthAdjust="spacingAndGlyphs">epoch</text>
<polyline points="19.8,262.7 20.6,263.0 21.4,262.3 22.2,262.9 23.0,263.1 23.7,260.3 24.5,258.3 25.3,259.2 26.1,258.6 26.9,255.9 27.7,253.9 28.5,254.7 29.3,256.1 30.0,258.1 30.8,263.2 31.6,268.0 32.4,268.3 33.2,267.8 34.0,268.8 34.8,270.5 35.6,270.9 36.3,269.8 37.1,269.7 37.9,271.8 38.7,272.7 39.5,272.8 40.3,274.7 41.1,275.1 41.9,272.6 42.6,271.1 43.4,271.9 44.2,273.6 45.0,273.9 45.8,274.5 46.6,278.2 47.4,279.1 48.2,275.4 48.9,273.8 49.7,275.7 50.5,278.3 51.3,279.7 52.1,279.4 52.9,277.4 53.7,276.6 54.5,279.0 55.2,280.6 56.0,280.2 56.8,280.5 57.6,280.9 58.4,280.2 59.2,280.0 60.0,280.4 60.8,281.1 61.5,282.3 62.3,282.2 63.1,282.0 63.9,282.2 64.7,282.7 65.5,283.3 66.3,283.3 67.1,281.8 67.8,281.0 68.6,282.4 69.4,282.6 70.2,281.9 71.0,281.7 71.8,282.3 72.6,283.7 73.4,284.6 74.1,286.5 74.9,288.5 75.7,287.4 76.5,286.5 77.3,286.6 78.1,285.7 78.9,285.7 79.7,287.5 80.4,286.3 81.2,283.4 82.0,284.4 82.8,285.9 83.6,286.7 84.4,287.9 85.2,287.8 86.0,287.7 86.7,287.0 87.5,287.2 88.3,287.9 89.1,287.3 89.9,286.7 90.7,286.1 91.5,287.0 92.3,289.1 93.0,289.0 93.8,286.9 94.6,288.2 95.4,291.0 96.2,289.4 97.0,288.1 97.8,289.0 98.6,288.7 99.3,289.3 100.1,291.3 100.9,291.5 101.7,291.1 102.5,291.4 103.3,290.5 104.1,289.6 104.9,289.7 105.6,290.0 106.4,290.8 107.2,290.4 108.0,289.5 108.8,289.7 109.6,289.4 110.4,289.2 111.2,290.5 111.9,291.7 112.7,292.2 113.5,293.2 114.3,293.2 115.1,291.1 115.9,289.4 116.7,289.5 117.5,291.1 118.2,292.9 119.0,292.4 119.8,290.7 120.6,291.8 121.4,294.3 122.2,294.7 123.0,292.8 123.8,290.3 124.6,288.8 125.3,288.7 126.1,288.9 126.9,288.9 127.7,288.8 128.5,289.1 129.3,290.8 130.1,292.6 130.9,292.9 131.6,292.8 132.4,293.8 133.2,293.0 134.0,290.6 134.8,290.1 135.6,289.9 136.4,290.4 137.2,291.8 137.9,293.2 138.7,295.4 139.5,296.2 140.3,294.2 141.1,292.6 141.9,292.4 142.7,293.0 143.5,293.1 144.2,292.7 145.0,293.1 145.8,293.8 146.6,295.1 147.4,296.6 148.2,296.2 149.0,293.4 149.8,290.7 150.5,290.4 151.3,291.3 152.1,290.7 152.9,290.6 153.7,291.8 154.5,292.9 155.3,295.4 156.1,296.7 156.8,295.2 157.6,293.4 158.4,292.6 159.2,293.1 160.0,293.0 160.8,291.5 161.6,292.5 162.4,294.4 163.1,292.9 163.9,292.2 164.7,294.2 165.5,295.3 166.3,295.4 167.1,294.6 167.9,294.4 168.7,295.5 169.4,294.9 170.2,294.4 171.0,296.0 171.8,296.4 172.6,295.3 173.4,293.4 174.2,292.7 175.0,293.6 175.7,294.9 176.5,295.4 177.3,294.3 178.1,294.3 178.9,294.9 179.7,295.9 180.5,296.1 181.3,296.7 182.0,298.3 182.8,298.0 183.6,296.6 184.4,295.1 185.2,295.3 186.0,296.4 186.8,296.3 187.6,295.5 188.3,293.3 189.1,291.8 189.9,293.4 190.7,294.9 191.5,296.3 192.3,298.9 193.1,300.3 193.9,299.4 194.6,298.8 195.4,298.8 196.2,298.6 197.0,298.0 197.8,296.9 198.6,296.8 199.4,298.5 200.2,300.1 200.9,300.3 201.7,299.0 202.5,296.9 203.3,297.1 204.1,298.3 204.9,297.4 205.7,294.9 206.5,293.0 207.2,293.5 208.0,297.1 208.8,300.3 209.6,298.5 210.4,296.4 211.2,297.1 212.0,297.5 212.8,297.4 213.5,296.4 214.3,295.5 215.1,296.7 215.9,298.4 216.7,299.3 217.5,298.8 218.3,297.9 219.1,298.5 219.9,298.7 220.6,298.9 221.4,299.5 222.2,298.7 223.0,298.6 223.8,299.3 224.6,299.7 225.4,300.2 226.2,300.4 226.9,299.2 227.7,299.4 228.5,300.8 229.3,299.8 230.1,298.2 230.9,296.2 231.7,294.6 232.5,296.0 233.2,298.2 234.0,299.0 234.8,299.2 235.6,299.9 236.4,300.7 237.2,300.2 238.0,299.1 238.8,298.4 239.5,297.7 240.3,298.1 241.1,298.9 241.9,297.8 242.7,297.8 243.5,297.5 244.3,296.6 245.1,298.0 245.8,298.8 246.6,298.5 247.4,297.5 248.2,296.7 249.0,298.1 249.8,299.6 250.6,300.3 251.4,298.9 252.1,297.7 252.9,299.6 253.7,301.0 254.5,300.6 255.3,299.5" fill="none" stroke="#c81e46" stroke-width="1.5" stroke-linejoin="round"/>
<polyline points="19.8,254.0 20.6,252.1 21.4,253.5 22.2,253.2 23.0,252.1 23.7,251.5 24.5,248.7 25.3,246.9 26.1,249.5 26.9,253.2 27.7,250.0 28.5,248.5 29.3,252.5 30.0,255.2 30.8,258.8 31.6,263.9 32.4,265.8 33.2,267.3 34.0,269.0 34.8,270.6 35.6,269.2 36.3,266.8 37.1,267.6 37.9,269.2 38.7,269.1 39.5,269.9 40.3,271.2 41.1,270.9 41.9,270.5 42.6,269.1 43.4,267.1 44.2,268.0 45.0,270.2 45.8,271.5 46.6,271.1 47.4,270.4 48.2,271.1 48.9,272.0 49.7,272.4 50.5,274.2 51.3,276.6 52.1,275.9 52.9,274.6 53.7,276.2 54.5,278.4 55.2,278.2 56.0,276.4 56.8,274.7 57.6,274.7 58.4,276.7 59.2,277.2 60.0,275.9 60.8,276.3 61.5,276.9 62.3,275.6 63.1,276.1 63.9,279.0 64.7,280.8 65.5,281.5 66.3,282.7 67.1,283.6 67.8,282.7 68.6,282.5 69.4,284.6 70.2,285.3 71.0,283.3 71.8,281.6 72.6,280.7 73.4,279.7 74.1,279.3 74.9,279.3 75.7,281.7 76.5,284.4 77.3,285.3 78.1,285.9 78.9,285.3 79.7,284.4 80.4,284.7 81.2,285.3 82.0,286.0 82.8,287.6 83.6,288.2 84.4,286.2 85.2,284.8 86.0,286.6 86.7,288.3 87.5,287.9 88.3,287.5 89.1,288.5 89.9,287.1 90.7,285.2 91.5,287.4 92.3,288.9 93.0,287.5 93.8,286.6 94.6,287.3 95.4,287.0 96.2,286.1 97.0,287.2 97.8,288.7 98.6,289.5 99.3,289.0 100.1,287.7 100.9,287.8 101.7,288.4 102.5,288.5 103.3,288.0 104.1,286.4 104.9,285.5 105.6,285.5 106.4,285.3 107.2,286.3 108.0,286.9 108.8,285.5 109.6,286.0 110.4,287.9 111.2,287.9 111.9,287.1 112.7,286.1 113.5,286.1 114.3,288.3 115.1,290.4 115.9,288.9 116.7,287.0 117.5,288.6 118.2,290.3 119.0,289.2 119.8,287.5 120.6,289.2 121.4,290.7 122.2,289.2 123.0,288.3 123.8,287.5 124.6,286.8 125.3,288.4 126.1,290.8 126.9,290.6 127.7,288.6 128.5,287.7 129.3,286.8 130.1,286.7 130.9,289.9 131.6,292.6 132.4,292.0 133.2,290.8 134.0,291.7 134.8,291.7 135.6,290.1 136.4,289.5 137.2,289.6 137.9,291.1 138.7,291.8 139.5,289.4 140.3,288.7 141.1,290.6 141.9,289.8 142.7,287.6 143.5,287.7 144.2,288.6 145.0,289.6 145.8,291.4 146.6,292.1 147.4,291.4 148.2,290.6 149.0,290.9 149.8,292.7 150.5,293.3 151.3,291.4 152.1,291.6 152.9,294.0 153.7,293.4 154.5,290.1 155.3,289.0 156.1,291.1 156.8,292.8 157.6,291.9 158.4,291.1 159.2,291.8 160.0,293.5 160.8,293.5 161.6,291.5 162.4,291.1 163.1,291.6 163.9,290.9 164.7,291.2 165.5,292.9 166.3,293.7 167.1,294.5 167.9,294.7 168.7,293.5 169.4,293.0 170.2,292.7 171.0,292.8 171.8,293.2 172.6,292.1 173.4,292.1 174.2,294.1 175.0,293.6 175.7,290.7 176.5,290.0 177.3,292.4 178.1,294.7 178.9,295.7 179.7,295.2 180.5,294.1 181.3,293.2 182.0,292.3 182.8,293.5 183.6,294.5 184.4,293.5 185.2,293.4 186.0,294.0 186.8,295.0 187.6,295.2 188.3,294.4 189.1,294.3 189.9,293.1 190.7,292.2 191.5,292.9 192.3,293.5 193.1,294.0 193.9,294.7 194.6,296.0 195.4,297.3 196.2,296.2 197.0,294.8 197.8,295.3 198.6,295.5 199.4,294.2 200.2,292.9 200.9,293.4 201.7,295.1 202.5,296.3 203.3,295.9 204.1,295.5 204.9,295.3 205.7,295.0 206.5,295.9 207.2,297.6 208.0,298.1 208.8,297.2 209.6,295.7 210.4,294.7 211.2,294.8 212.0,295.6 212.8,294.6 213.5,293.3 214.3,294.2 215.1,294.2 215.9,292.2 216.7,293.2 217.5,295.9 218.3,296.2 219.1,294.7 219.9,294.7 220.6,297.2 221.4,298.2 222.2,296.5 223.0,295.2 223.8,296.5 224.6,297.3 225.4,296.0 226.2,295.2 226.9,295.6 227.7,296.3 228.5,295.9 229.3,294.7 230.1,293.3 230.9,293.9 231.7,297.2 232.5,299.0 233.2,298.9 234.0,298.1 234.8,296.4 235.6,296.2 236.4,296.7 237.2,297.4 238.0,297.5 238.8,295.6 239.5,294.9 240.3,295.4 241.1,296.0 241.9,296.0 242.7,295.5 243.5,297.3 244.3,298.6 245.1,298.4 245.8,299.9 246.6,300.4 247.4,298.8 248.2,298.0 249.0,298.1 249.8,297.5 250.6,296.3 251.4,296.2 252.1,297.0 252.9,297.4 253.7,298.3 254.5,298.3 255.3,297.3" fill="none" stroke="#3c9e50" stroke-width="1.5" stroke-linejoin="round"/>
<polyline points="19.8,227.8 20.6,235.4 21.4,246.1 22.2,245.3 23.0,237.8 23.7,231.6 24.5,230.5 25.3,231.3 26.1,234.3 26.9,240.0 27.7,239.9 28.5,240.2 29.3,237.5 30.0,236.3 30.8,245.6 31.6,251.2 32.4,255.2 33.2,259.7 34.0,262.5 34.8,259.9 35.6,257.1 36.3,253.0 37.1,253.9 37.9,257.8 38.7,260.7 39.5,259.6 40.3,258.7 41.1,259.2 41.9,258.3 42.6,257.7 43.4,258.8 44.2,262.1 45.0,263.7 45.8,261.2 46.6,260.6 47.4,261.6 48.2,263.0 48.9,265.5 49.7,266.0 50.5,264.4 51.3,262.5 52.1,263.0 52.9,265.3 53.7,266.3 54.5,266.9 55.2,266.3 56.0,263.6 56.8,263.2 57.6,264.9 58.4,265.0 59.2,265.4 60.0,265.9 60.8,267.3 61.5,269.3 62.3,272.4 63.1,273.3 63.9,273.5 64.7,274.4 65.5,272.5 66.3,271.9 67.1,274.2 67.8,274.6 68.6,273.8 69.4,273.4 70.2,272.3 71.0,269.6 71.8,267.4 72.6,269.5 73.4,271.3 74.1,268.4 74.9,266.6 75.7,269.2 76.5,273.1 77.3,274.0 78.1,273.4 78.9,275.0 79.7,276.6 80.4,277.8 81.2,276.7 82.0,274.3 82.8,274.2 83.6,275.1 84.4,275.9 85.2,276.0 86.0,276.2 86.7,276.9 87.5,277.1 88.3,277.3 89.1,276.6 89.9,276.7 90.7,278.8 91.5,280.3 92.3,280.5 93.0,278.9 93.8,277.2 94.6,277.3 95.4,275.9 96.2,272.9 97.0,275.0 97.8,279.3 98.6,276.3 99.3,272.2 100.1,275.1 100.9,277.0 101.7,278.0 102.5,282.3 103.3,283.1 104.1,280.5 104.9,278.9 105.6,279.6 106.4,280.6 107.2,279.2 108.0,277.5 108.8,278.0 109.6,278.9 110.4,277.9 111.2,276.9 111.9,277.9 112.7,279.0 113.5,279.2 114.3,277.9 115.1,277.0 115.9,279.8 116.7,279.9 117.5,277.1 118.2,276.8 119.0,277.0 119.8,278.5 120.6,281.3 121.4,283.3 122.2,283.9 123.0,280.6 123.8,277.8 124.6,276.6 125.3,277.0 126.1,281.3 126.9,282.7 127.7,281.4 128.5,280.2 129.3,278.8 130.1,278.7 130.9,278.4 131.6,279.2 132.4,279.7 133.2,280.4 134.0,281.8 134.8,281.3 135.6,281.0 136.4,279.6 137.2,278.6 137.9,281.0 138.7,281.9 139.5,281.2 140.3,280.7 141.1,280.8 141.9,281.5 142.7,281.3 143.5,282.5 144.2,282.8 145.0,280.1 145.8,279.2 146.6,279.7 147.4,278.9 148.2,278.9 149.0,280.8 149.8,282.5 150.5,281.0 151.3,280.2 152.1,283.1 152.9,284.7 153.7,282.6 154.5,280.1 155.3,282.0 156.1,287.2 156.8,288.3 157.6,284.5 158.4,282.8 159.2,284.6 160.0,286.0 160.8,285.7 161.6,283.9 162.4,283.2 163.1,283.8 163.9,283.7 164.7,283.5 165.5,283.9 166.3,282.5 167.1,281.7 167.9,283.7 168.7,282.3 169.4,279.5 170.2,281.4 171.0,283.7 171.8,285.7 172.6,286.8 173.4,284.1 174.2,281.3 175.0,279.0 175.7,278.7 176.5,281.1 177.3,282.7 178.1,283.8 178.9,285.4 179.7,286.7 180.5,286.2 181.3,285.0 182.0,284.0 182.8,283.5 183.6,284.5 184.4,284.9 185.2,280.7 186.0,277.2 186.8,282.5 187.6,288.4 188.3,286.0 189.1,283.2 189.9,285.1 190.7,287.0 191.5,286.0 192.3,283.3 193.1,281.8 193.9,281.9 194.6,282.6 195.4,285.7 196.2,288.9 197.0,287.7 197.8,283.9 198.6,281.4 199.4,282.0 200.2,285.2 200.9,287.3 201.7,287.5 202.5,285.5 203.3,281.7 204.1,281.8 204.9,285.0 205.7,286.7 206.5,286.3 207.2,282.5 208.0,280.9 208.8,283.2 209.6,286.0 210.4,286.8 211.2,286.0 212.0,285.4 212.8,283.7 213.5,282.9 214.3,282.9 215.1,283.5 215.9,284.8 216.7,289.4 217.5,291.7 218.3,286.9 219.1,285.5 219.9,287.7 220.6,288.6 221.4,288.4 222.2,286.8 223.0,286.5 223.8,286.9 224.6,287.8 225.4,288.2 226.2,287.1 226.9,284.6 227.7,282.3 228.5,284.2 229.3,287.4 230.1,288.2 230.9,287.4 231.7,286.4 232.5,288.5 233.2,288.1 234.0,285.0 234.8,288.2 235.6,291.0 236.4,289.3 237.2,289.2 238.0,289.9 238.8,289.5 239.5,287.7 240.3,286.2 241.1,286.5 241.9,286.6 242.7,286.0 243.5,287.0 244.3,288.8 245.1,286.9 245.8,284.4 246.6,285.6 247.4,285.9 248.2,284.7 249.0,287.3 249.8,290.6 250.6,290.2 251.4,287.3 252.1,285.9" fill="none" stroke="#22309b" stroke-width="1.5" stroke-linejoin="round"/>
<text x="135.5" y="210.0" class="ti" text-anchor="middle" textLength="33.0" lengthAdjust="spacingAndGlyphs">Loss-obj</text>
<rect x="32.45" y="215.55" width="3.9" height="6.80" fill="none" stroke="#c81e46" stroke-width="0.9"/>
<text x="41.4" y="222.4" class="lg" fill="#c81e46" stroke="#c81e46" textLength="25.5" lengthAdjust="spacingAndGlyphs">SSMDA</text>
<rect x="87.85" y="215.55" width="3.9" height="6.80" fill="none" stroke="#3c9e50" stroke-width="0.9"/>
<text x="94.2" y="222.4" class="lg" fill="#3c9e50" stroke="#3c9e50" textLength="34.8" lengthAdjust="spacingAndGlyphs">SimCLR-ST</text>
<rect x="165.25" y="215.55" width="3.9" height="6.80" fill="none" stroke="#22309b" stroke-width="0.9"/>
<text x="172.0" y="222.4" class="lg" fill="#22309b" stroke="#22309b" textLength="54.3" lengthAdjust="spacingAndGlyphs">Baseline Module</text>
<text x="126.2" y="375.3" class="cap" text-anchor="middle">(<tspan font-weight="bold">c</tspan>)</text>
<line x1="304.6" y1="325.80" x2="541.5" y2="325.80" stroke="#e2e2e2" stroke-width="1"/>
<text x="299.0" y="328.70" class="tk" text-anchor="end" textLength="4.14" lengthAdjust="spacingAndGlyphs">0</text>
<line x1="304.6" y1="305.85" x2="541.5" y2="305.85" stroke="#f4f4f4" stroke-width="1"/>
<text x="299.0" y="308.75" class="tk" text-anchor="end" textLength="10.36" lengthAdjust="spacingAndGlyphs">0.2</text>
<line x1="304.6" y1="285.90" x2="541.5" y2="285.90" stroke="#f4f4f4" stroke-width="1"/>
<text x="299.0" y="288.80" class="tk" text-anchor="end" textLength="10.36" lengthAdjust="spacingAndGlyphs">0.4</text>
<line x1="304.6" y1="265.95" x2="541.5" y2="265.95" stroke="#f4f4f4" stroke-width="1"/>
<text x="299.0" y="268.85" class="tk" text-anchor="end" textLength="10.36" lengthAdjust="spacingAndGlyphs">0.6</text>
<line x1="304.6" y1="246.00" x2="541.5" y2="246.00" stroke="#f4f4f4" stroke-width="1"/>
<text x="299.0" y="248.90" class="tk" text-anchor="end" textLength="10.36" lengthAdjust="spacingAndGlyphs">0.8</text>
<line x1="343.60" y1="321.80" x2="343.60" y2="328.80" stroke="#f4f4f4" stroke-width="1"/>
<text x="343.60" y="338.70" class="tk" text-anchor="middle" textLength="8.28" lengthAdjust="spacingAndGlyphs">50</text>
<line x1="382.90" y1="321.80" x2="382.90" y2="328.80" stroke="#f4f4f4" stroke-width="1"/>
<text x="382.90" y="338.70" class="tk" text-anchor="middle" textLength="12.43" lengthAdjust="spacingAndGlyphs">100</text>
<line x1="422.20" y1="321.80" x2="422.20" y2="328.80" stroke="#f4f4f4" stroke-width="1"/>
<text x="422.20" y="338.70" class="tk" text-anchor="middle" textLength="12.43" lengthAdjust="spacingAndGlyphs">150</text>
<line x1="461.50" y1="321.80" x2="461.50" y2="328.80" stroke="#f4f4f4" stroke-width="1"/>
<text x="461.50" y="338.70" class="tk" text-anchor="middle" textLength="12.43" lengthAdjust="spacingAndGlyphs">200</text>
<line x1="500.80" y1="321.80" x2="500.80" y2="328.80" stroke="#f4f4f4" stroke-width="1"/>
<text x="500.80" y="338.70" class="tk" text-anchor="middle" textLength="12.43" lengthAdjust="spacingAndGlyphs">250</text>
<line x1="540.10" y1="321.80" x2="540.10" y2="328.80" stroke="#f4f4f4" stroke-width="1"/>
<text x="540.10" y="338.70" class="tk" text-anchor="middle" textLength="12.43" lengthAdjust="spacingAndGlyphs">300</text>
<text x="527.2" y="322.8" class="tk" text-anchor="middle" textLength="20.8" lengthAdjust="spacingAndGlyphs">epoch</text>
<polyline points="305.1,255.0 305.9,257.4 306.7,258.6 307.5,257.9 308.2,256.0 309.0,255.1 309.8,255.7 310.6,256.2 311.4,256.7 312.2,257.5 313.0,257.8 313.7,258.7 314.5,259.7 315.3,260.9 316.1,262.3 316.9,263.2 317.7,264.4 318.5,266.0 319.2,266.6 320.0,266.4 320.8,268.3 321.6,270.1 322.4,270.2 323.2,270.8 324.0,271.9 324.8,273.6 325.5,274.3 326.3,274.4 327.1,274.7 327.9,274.5 328.7,275.0 329.5,275.4 330.3,275.2 331.0,276.0 331.8,277.0 332.6,277.6 333.4,276.9 334.2,276.1 335.0,277.2 335.8,279.1 336.5,280.4 337.3,280.6 338.1,280.7 338.9,281.4 339.7,281.5 340.5,282.1 341.3,283.2 342.0,282.4 342.8,281.9 343.6,283.5 344.4,284.2 345.2,284.7 346.0,285.5 346.8,285.5 347.5,286.0 348.3,287.6 349.1,288.0 349.9,286.4 350.7,286.4 351.5,288.0 352.3,288.2 353.0,287.2 353.8,287.4 354.6,288.4 355.4,288.1 356.2,287.9 357.0,288.3 357.8,287.9 358.5,287.1 359.3,287.4 360.1,288.4 360.9,289.4 361.7,290.3 362.5,290.4 363.3,290.1 364.1,290.3 364.8,290.6 365.6,289.9 366.4,289.1 367.2,288.5 368.0,289.3 368.8,291.0 369.6,290.4 370.3,289.3 371.1,290.2 371.9,290.6 372.7,290.5 373.5,291.3 374.3,291.7 375.1,292.2 375.8,292.6 376.6,292.5 377.4,292.9 378.2,292.6 379.0,292.8 379.8,294.0 380.6,293.6 381.3,292.7 382.1,292.8 382.9,292.5 383.7,292.2 384.5,293.1 385.3,293.0 386.1,291.7 386.8,292.4 387.6,293.3 388.4,293.8 389.2,294.5 390.0,293.8 390.8,292.3 391.6,291.6 392.3,292.4 393.1,293.7 393.9,294.3 394.7,294.3 395.5,294.9 396.3,296.4 397.1,295.6 397.8,294.2 398.6,293.1 399.4,291.8 400.2,293.3 401.0,295.3 401.8,294.9 402.6,294.2 403.4,294.3 404.1,295.3 404.9,295.6 405.7,295.7 406.5,296.9 407.3,297.6 408.1,296.1 408.9,294.5 409.6,295.3 410.4,295.6 411.2,294.2 412.0,293.7 412.8,294.8 413.6,295.6 414.4,295.6 415.1,295.6 415.9,296.3 416.7,296.6 417.5,296.6 418.3,296.6 419.1,295.6 419.9,295.1 420.6,296.6 421.4,299.0 422.2,298.9 423.0,296.2 423.8,295.5 424.6,296.5 425.4,296.9 426.1,296.9 426.9,297.8 427.7,298.4 428.5,297.6 429.3,298.3 430.1,299.9 430.9,298.9 431.6,298.1 432.4,299.2 433.2,298.9 434.0,298.3 434.8,298.2 435.6,297.8 436.4,298.3 437.1,298.8 437.9,298.1 438.7,297.4 439.5,298.2 440.3,298.2 441.1,297.9 441.9,298.9 442.7,299.4 443.4,300.4 444.2,301.2 445.0,300.6 445.8,299.9 446.6,299.1 447.4,297.9 448.2,297.5 448.9,298.4 449.7,298.0 450.5,297.5 451.3,299.6 452.1,301.4 452.9,301.4 453.7,300.9 454.4,299.7 455.2,298.9 456.0,299.4 456.8,299.1 457.6,299.3 458.4,300.5 459.2,300.3 459.9,299.6 460.7,299.9 461.5,300.3 462.3,301.3 463.1,301.6 463.9,299.8 464.7,299.5 465.4,302.0 466.2,302.8 467.0,300.4 467.8,298.7 468.6,298.9 469.4,299.9 470.2,300.4 470.9,300.7 471.7,300.8 472.5,299.9 473.3,299.1 474.1,299.8 474.9,301.8 475.7,302.8 476.4,302.0 477.2,301.1 478.0,301.7 478.8,302.0 479.6,301.8 480.4,301.5 481.2,300.8 482.0,299.9 482.7,299.2 483.5,299.7 484.3,300.0 485.1,299.9 485.9,301.2 486.7,302.0 487.5,300.8 488.2,299.7 489.0,300.0 489.8,301.8 490.6,302.9 491.4,302.2 492.2,300.8 493.0,300.4 493.7,301.4 494.5,301.9 495.3,301.3 496.1,300.9 496.9,301.2 497.7,302.4 498.5,303.2 499.2,302.7 500.0,302.2 500.8,301.6 501.6,300.7 502.4,300.5 503.2,301.0 504.0,301.6 504.7,302.2 505.5,303.0 506.3,303.6 507.1,303.8 507.9,303.1 508.7,302.1 509.5,301.2 510.2,301.3 511.0,302.5 511.8,302.1 512.6,302.2 513.4,303.0 514.2,301.7 515.0,301.1 515.7,301.6 516.5,301.7 517.3,302.2 518.1,302.8 518.9,302.9 519.7,302.8 520.5,302.8 521.2,302.7 522.0,303.3 522.8,303.0 523.6,301.4 524.4,301.6 525.2,301.8 526.0,299.6 526.8,299.2 527.5,301.3 528.3,302.6 529.1,303.1 529.9,303.1 530.7,302.6 531.5,302.5 532.3,302.3 533.0,301.8 533.8,302.4 534.6,303.3 535.4,303.3 536.2,303.3 537.0,303.1 537.8,302.3 538.5,302.4 539.3,303.0 540.1,302.9" fill="none" stroke="#c81e46" stroke-width="1.5" stroke-linejoin="round"/>
<polyline points="305.1,250.2 305.9,250.8 306.7,251.7 307.5,250.5 308.2,249.8 309.0,249.9 309.8,249.0 310.6,248.3 311.4,252.2 312.2,253.4 313.0,251.3 313.7,251.4 314.5,254.2 315.3,258.1 316.1,261.7 316.9,263.9 317.7,265.1 318.5,266.2 319.2,266.5 320.0,266.4 320.8,267.0 321.6,267.6 322.4,267.5 323.2,268.0 324.0,268.8 324.8,270.6 325.5,271.5 326.3,271.5 327.1,272.1 327.9,271.5 328.7,271.4 329.5,272.2 330.3,272.7 331.0,274.1 331.8,273.7 332.6,272.0 333.4,272.6 334.2,274.7 335.0,275.9 335.8,275.9 336.5,276.7 337.3,277.9 338.1,278.1 338.9,278.2 339.7,278.7 340.5,280.6 341.3,281.3 342.0,279.1 342.8,277.6 343.6,279.2 344.4,281.5 345.2,282.4 346.0,282.5 346.8,281.7 347.5,281.8 348.3,283.6 349.1,284.8 349.9,284.2 350.7,283.7 351.5,284.6 352.3,285.4 353.0,285.6 353.8,285.1 354.6,284.9 355.4,284.3 356.2,283.8 357.0,285.7 357.8,287.7 358.5,287.0 359.3,285.3 360.1,285.6 360.9,287.2 361.7,287.1 362.5,286.9 363.3,287.2 364.1,287.1 364.8,288.1 365.6,288.9 366.4,289.0 367.2,289.7 368.0,289.5 368.8,289.2 369.6,289.8 370.3,290.3 371.1,290.3 371.9,289.6 372.7,289.5 373.5,290.3 374.3,289.6 375.1,289.1 375.8,290.4 376.6,290.8 377.4,290.3 378.2,290.4 379.0,291.7 379.8,292.3 380.6,290.7 381.3,289.2 382.1,289.8 382.9,290.8 383.7,290.5 384.5,290.5 385.3,291.6 386.1,291.9 386.8,291.3 387.6,291.0 388.4,290.5 389.2,290.3 390.0,290.2 390.8,290.2 391.6,291.2 392.3,291.4 393.1,291.2 393.9,291.6 394.7,291.6 395.5,291.0 396.3,290.7 397.1,291.6 397.8,292.1 398.6,291.2 399.4,291.7 400.2,292.5 401.0,291.3 401.8,290.7 402.6,290.4 403.4,291.1 404.1,292.7 404.9,292.5 405.7,291.4 406.5,291.8 407.3,292.6 408.1,292.3 408.9,292.3 409.6,292.7 410.4,292.4 411.2,292.6 412.0,293.0 412.8,292.9 413.6,292.9 414.4,294.2 415.1,295.5 415.9,294.8 416.7,293.8 417.5,292.9 418.3,292.6 419.1,293.3 419.9,293.6 420.6,293.7 421.4,294.5 422.2,296.0 423.0,297.4 423.8,297.2 424.6,296.4 425.4,297.1 426.1,296.9 426.9,295.0 427.7,294.4 428.5,295.7 429.3,296.8 430.1,296.0 430.9,295.8 431.6,296.6 432.4,296.0 433.2,295.8 434.0,296.4 434.8,295.3 435.6,293.5 436.4,294.4 437.1,295.7 437.9,296.0 438.7,296.9 439.5,297.1 440.3,296.9 441.1,296.3 441.9,295.0 442.7,294.9 443.4,295.7 444.2,297.2 445.0,298.2 445.8,297.4 446.6,296.1 447.4,295.2 448.2,295.8 448.9,296.6 449.7,297.1 450.5,298.2 451.3,298.7 452.1,298.0 452.9,297.0 453.7,296.5 454.4,297.3 455.2,297.0 456.0,296.2 456.8,296.8 457.6,297.6 458.4,298.4 459.2,298.5 459.9,298.7 460.7,299.2 461.5,298.2 462.3,297.5 463.1,297.8 463.9,297.7 464.7,297.5 465.4,298.3 466.2,298.4 467.0,297.2 467.8,297.1 468.6,299.1 469.4,300.2 470.2,300.0 470.9,300.3 471.7,300.5 472.5,300.2 473.3,300.0 474.1,298.8 474.9,297.8 475.7,298.2 476.4,298.7 477.2,299.8 478.0,300.7 478.8,300.4 479.6,300.8 480.4,301.9 481.2,301.4 482.0,299.6 482.7,299.4 483.5,300.1 484.3,298.4 485.1,296.4 485.9,297.3 486.7,298.8 487.5,298.4 488.2,298.5 489.0,299.7 489.8,299.9 490.6,298.9 491.4,299.1 492.2,300.4 493.0,300.8 493.7,300.1 494.5,299.6 495.3,300.0 496.1,300.9 496.9,300.8 497.7,300.1 498.5,299.5 499.2,298.9 500.0,299.0 500.8,299.1 501.6,299.7 502.4,301.6 503.2,302.3 504.0,301.1 504.7,299.9 505.5,300.1 506.3,300.6 507.1,300.8 507.9,301.6 508.7,302.2 509.5,301.3 510.2,300.6 511.0,300.5 511.8,299.4 512.6,299.1 513.4,301.5 514.2,303.1 515.0,302.2 515.7,299.4 516.5,297.3 517.3,298.8 518.1,300.7 518.9,301.2 519.7,301.3 520.5,300.8 521.2,300.9 522.0,301.3 522.8,300.5 523.6,299.7 524.4,300.3 525.2,300.9 526.0,300.1 526.8,299.5 527.5,299.6 528.3,300.1 529.1,301.3 529.9,302.1 530.7,301.9 531.5,301.5 532.3,301.2 533.0,300.4 533.8,299.7 534.6,300.8 535.4,301.8 536.2,301.5 537.0,301.0 537.8,300.4 538.5,300.7 539.3,301.4 540.1,301.8" fill="none" stroke="#3c9e50" stroke-width="1.5" stroke-linejoin="round"/>
<polyline points="305.1,229.0 305.9,236.3 306.7,240.1 307.5,240.4 308.2,237.7 309.0,238.2 309.8,238.9 310.6,238.8 311.4,240.8 312.2,241.2 313.0,238.7 313.7,238.4 314.5,242.5 315.3,245.1 316.1,247.9 316.9,249.8 317.7,251.3 318.5,260.1 319.2,263.2 320.0,260.3 320.8,257.3 321.6,258.1 322.4,259.1 323.2,260.5 324.0,262.3 324.8,263.1 325.5,262.9 326.3,262.5 327.1,261.8 327.9,260.6 328.7,261.5 329.5,263.5 330.3,263.8 331.0,263.7 331.8,263.6 332.6,263.3 333.4,264.8 334.2,266.0 335.0,265.3 335.8,266.2 336.5,268.9 337.3,268.8 338.1,267.2 338.9,266.8 339.7,266.2 340.5,265.7 341.3,266.6 342.0,269.0 342.8,271.7 343.6,272.6 344.4,272.8 345.2,273.6 346.0,273.0 346.8,271.0 347.5,271.3 348.3,273.5 349.1,275.4 349.9,274.9 350.7,271.9 351.5,272.5 352.3,276.1 353.0,276.7 353.8,276.4 354.6,275.2 355.4,274.8 356.2,277.0 357.0,278.5 357.8,278.8 358.5,277.4 359.3,275.6 360.1,276.6 360.9,277.7 361.7,277.0 362.5,277.9 363.3,278.4 364.1,276.7 364.8,276.8 365.6,278.8 366.4,279.7 367.2,278.7 368.0,278.2 368.8,278.9 369.6,279.1 370.3,279.8 371.1,280.2 371.9,280.3 372.7,281.7 373.5,281.3 374.3,279.6 375.1,280.0 375.8,280.4 376.6,280.2 377.4,281.4 378.2,282.4 379.0,281.4 379.8,279.8 380.6,279.3 381.3,280.4 382.1,280.8 382.9,280.2 383.7,281.0 384.5,283.2 385.3,283.9 386.1,283.9 386.8,285.2 387.6,285.4 388.4,284.5 389.2,283.9 390.0,282.7 390.8,281.9 391.6,282.3 392.3,283.0 393.1,284.2 393.9,286.5 394.7,287.1 395.5,285.9 396.3,284.5 397.1,281.8 397.8,280.3 398.6,282.3 399.4,284.8 400.2,287.3 401.0,288.0 401.8,286.6 402.6,286.5 403.4,286.5 404.1,285.6 404.9,285.6 405.7,286.3 406.5,285.9 407.3,282.5 408.1,280.8 408.9,283.8 409.6,286.6 410.4,286.3 411.2,285.1 412.0,284.8 412.8,284.9 413.6,285.0 414.4,283.9 415.1,283.9 415.9,285.0 416.7,283.3 417.5,283.2 418.3,285.6 419.1,284.7 419.9,283.5 420.6,285.0 421.4,284.7 422.2,284.5 423.0,287.0 423.8,288.8 424.6,288.2 425.4,287.5 426.1,287.3 426.9,286.4 427.7,285.3 428.5,285.6 429.3,285.6 430.1,285.6 430.9,287.7 431.6,289.3 432.4,288.7 433.2,288.1 434.0,287.8 434.8,287.2 435.6,288.1 436.4,289.0 437.1,288.4 437.9,288.1 438.7,288.2 439.5,287.9 440.3,288.6 441.1,288.4 441.9,287.6 442.7,289.5 443.4,290.5 444.2,288.9 445.0,287.5 445.8,287.4 446.6,288.4 447.4,290.0 448.2,291.1 448.9,291.1 449.7,288.7 450.5,285.9 451.3,286.4 452.1,288.3 452.9,288.5 453.7,287.4 454.4,288.1 455.2,288.9 456.0,288.5 456.8,290.2 457.6,292.2 458.4,292.2 459.2,292.2 459.9,290.6 460.7,289.1 461.5,289.5 462.3,289.4 463.1,287.8 463.9,286.9 464.7,288.3 465.4,289.9 466.2,290.9 467.0,290.4 467.8,288.7 468.6,288.2 469.4,288.9 470.2,288.9 470.9,289.8 471.7,291.7 472.5,291.5 473.3,292.0 474.1,292.7 474.9,291.9 475.7,286.0 476.4,291.8 477.2,292.1 478.0,291.8 478.8,291.3 479.6,290.4 480.4,289.4 481.2,289.0 482.0,289.3 482.7,291.0 483.5,291.6 484.3,289.6 485.1,288.4 485.9,288.7 486.7,290.4 487.5,291.6 488.2,291.0 489.0,289.2 489.8,287.7 490.6,289.2 491.4,290.8 492.2,289.1 493.0,288.5 493.7,290.2 494.5,292.1 495.3,292.7 496.1,291.2 496.9,290.0 497.7,290.4 498.5,289.6 499.2,289.6 500.0,292.0 500.8,292.6 501.6,291.0 502.4,290.8 503.2,291.8 504.0,291.7 504.7,290.8 505.5,291.0 506.3,291.4 507.1,290.8 507.9,290.4 508.7,290.4 509.5,289.9 510.2,289.0 511.0,289.7 511.8,292.0 512.6,292.9 513.4,289.8 514.2,286.1 515.0,287.8 515.7,292.4 516.5,295.0 517.3,294.4 518.1,292.2 518.9,291.1 519.7,292.3 520.5,294.1 521.2,292.8 522.0,291.5 522.8,293.1 523.6,292.3 524.4,289.4 525.2,290.4 526.0,293.4 526.8,292.9 527.5,290.8 528.3,291.6 529.1,293.2 529.9,292.1 530.7,290.5 531.5,291.3 532.3,292.8 533.0,292.2 533.8,292.3 534.6,294.2 535.4,292.5 536.2,289.1 537.0,288.5" fill="none" stroke="#22309b" stroke-width="1.5" stroke-linejoin="round"/>
<text x="412.6" y="210.0" class="ti" text-anchor="middle" textLength="17.2" lengthAdjust="spacingAndGlyphs">Loss</text>
<rect x="317.85" y="215.55" width="3.9" height="6.80" fill="none" stroke="#c81e46" stroke-width="0.9"/>
<text x="326.4" y="222.4" class="lg" fill="#c81e46" stroke="#c81e46" textLength="26.1" lengthAdjust="spacingAndGlyphs">SSMDA</text>
<rect x="372.85" y="215.55" width="3.9" height="6.80" fill="none" stroke="#3c9e50" stroke-width="0.9"/>
<text x="379.4" y="222.4" class="lg" fill="#3c9e50" stroke="#3c9e50" textLength="34.9" lengthAdjust="spacingAndGlyphs">SimCLR-ST</text>
<rect x="450.85" y="215.55" width="3.9" height="6.80" fill="none" stroke="#22309b" stroke-width="0.9"/>
<text x="457.2" y="222.4" class="lg" fill="#22309b" stroke="#22309b" textLength="54.1" lengthAdjust="spacingAndGlyphs">Baseline Module</text>
<text x="413.0" y="375.3" class="cap" text-anchor="middle">(<tspan font-weight="bold">d</tspan>)</text>
</svg>
</body></html>
